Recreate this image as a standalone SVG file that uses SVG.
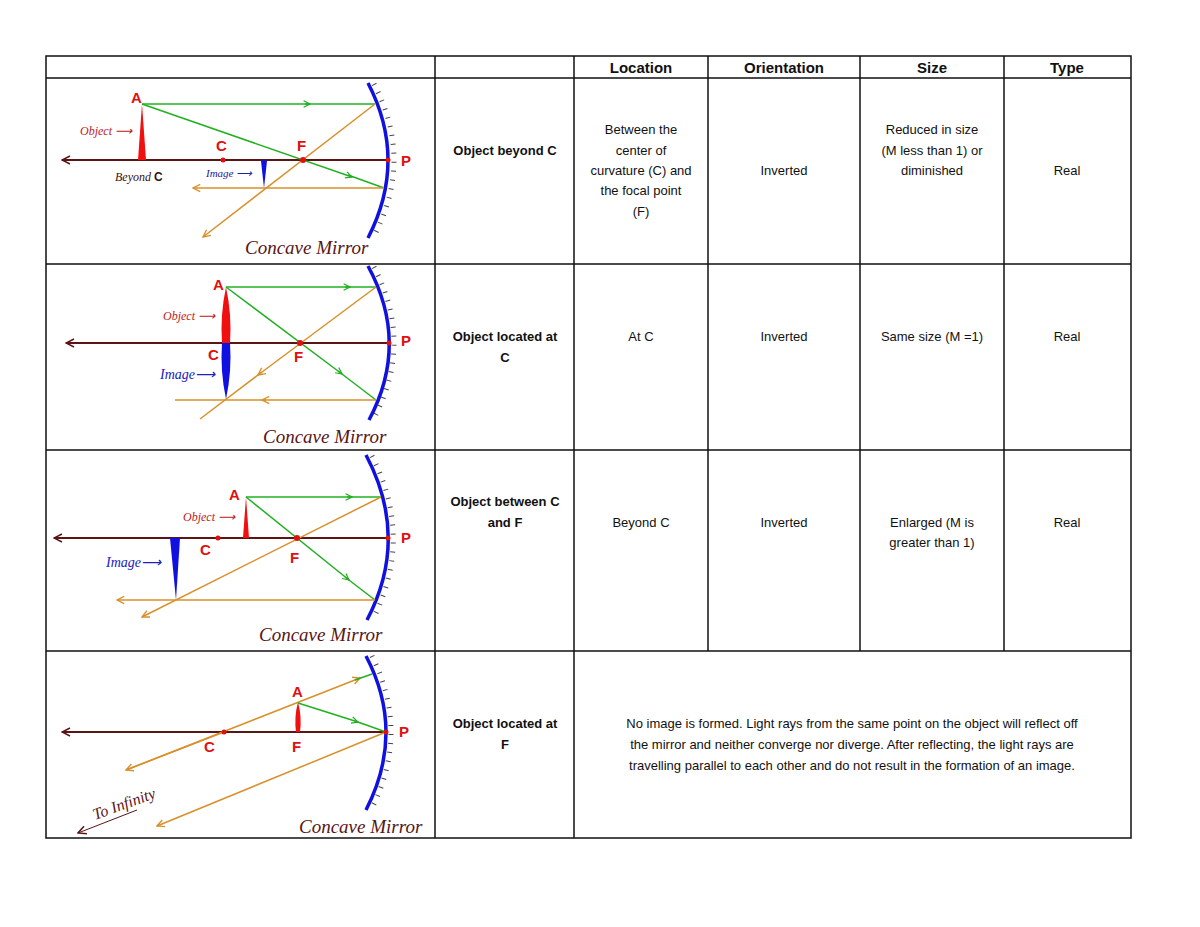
<svg xmlns="http://www.w3.org/2000/svg" width="1200" height="927" viewBox="0 0 1200 927">
<defs>
<style>
.t{font-family:"Liberation Sans",Arial,sans-serif;font-size:13px;fill:#111;text-anchor:middle}
.b{font-weight:bold}
.h{font-family:"Liberation Sans",Arial,sans-serif;font-size:15px;font-weight:bold;fill:#111;text-anchor:middle}
.g{fill:none;stroke:#22b022;stroke-width:1.5}
.o{fill:none;stroke:#d8902a;stroke-width:1.5}
.ax{fill:none;stroke:#5a1515;stroke-width:2}
.mir{fill:none;stroke:#1010e0;stroke-width:3.5}
.tk{fill:none;stroke:#444;stroke-width:5;stroke-dasharray:1 8}
.lbl{font-family:"Liberation Sans",Arial,sans-serif;font-weight:bold;font-size:15px;fill:#e01010}
.it{font-family:"Liberation Serif",serif;font-style:italic;font-size:12px}
.cm{font-family:"Liberation Serif",serif;font-style:italic;font-size:19px;fill:#5a1515}
.grid{fill:none;stroke:#111;stroke-width:1.5}
</style>
<marker id="ag" viewBox="0 0 10 10" refX="9" refY="5" markerWidth="8" markerHeight="8" orient="auto" markerUnits="userSpaceOnUse"><path d="M1 1L9 5L1 9" fill="none" stroke="#22b022" stroke-width="1.5"/></marker>
<marker id="ao" viewBox="0 0 10 10" refX="9" refY="5" markerWidth="9" markerHeight="9" orient="auto" markerUnits="userSpaceOnUse"><path d="M1 1L9 5L1 9" fill="none" stroke="#d8902a" stroke-width="1.5"/></marker>
<marker id="ab" viewBox="0 0 10 10" refX="9" refY="5" markerWidth="10" markerHeight="10" orient="auto" markerUnits="userSpaceOnUse"><path d="M1 1L9 5L1 9" fill="none" stroke="#5a1515" stroke-width="1.5"/></marker>
</defs>

<g id="table">
<rect class="grid" x="46" y="56" width="1085" height="782"/>
<path class="grid" d="M46 78H1131M46 264H1131M46 450H1131M46 651H1131M435 56V838M574 56V838M708 56V651M860 56V651M1004 56V651"/>
<text class="h" x="641" y="73">Location</text>
<text class="h" x="784" y="73">Orientation</text>
<text class="h" x="932" y="73">Size</text>
<text class="h" x="1067" y="73">Type</text>
</g>

<g id="row1-text">
<text class="t b" x="505" y="155">Object  beyond C</text>
<text class="t" x="641" y="134">Between the</text>
<text class="t" x="641" y="155">center  of</text>
<text class="t" x="641" y="175">curvature (C) and</text>
<text class="t" x="641" y="195">the focal point</text>
<text class="t" x="641" y="216">(F)</text>
<text class="t" x="784" y="175">Inverted</text>
<text class="t" x="932" y="134">Reduced  in size</text>
<text class="t" x="932" y="155">(M less than 1) or</text>
<text class="t" x="932" y="175">diminished</text>
<text class="t" x="1067" y="175">Real</text>
</g>
<g id="row2-text">
<text class="t b" x="505" y="341">Object  located at</text>
<text class="t b" x="505" y="362">C</text>
<text class="t" x="641" y="341">At C</text>
<text class="t" x="784" y="341">Inverted</text>
<text class="t" x="932" y="341">Same  size (M =1)</text>
<text class="t" x="1067" y="341">Real</text>
</g>
<g id="row3-text">
<text class="t b" x="505" y="506">Object between C</text>
<text class="t b" x="505" y="527">and F</text>
<text class="t" x="641" y="527">Beyond  C</text>
<text class="t" x="784" y="527">Inverted</text>
<text class="t" x="932" y="527">Enlarged (M is</text>
<text class="t" x="932" y="547">greater than  1)</text>
<text class="t" x="1067" y="527">Real</text>
</g>
<g id="row4-text">
<text class="t b" x="505" y="728">Object located at</text>
<text class="t b" x="505" y="749">F</text>
<text class="t" x="852" y="728">No image is formed.  Light rays from the same point on the object will reflect off</text>
<text class="t" x="852" y="749">the mirror and neither converge nor diverge. After  reflecting, the light rays are</text>
<text class="t" x="852" y="770">travelling parallel to each other  and do not result in the formation of an image.</text>
</g>

<g id="diagram1">
<path class="ax" d="M388 160H62" marker-end="url(#ab)"/>
<path class="tk" d="M374 84Q414 160 374 236"/>
<path class="mir" d="M368 83Q408 160 368 238"/>
<path d="M142 104L146 160H138Z" fill="#f01010"/>
<path d="M264 160L267 161L264 188L261 161Z" fill="#1010e0"/>
<path class="g" d="M142 104L310 104" marker-end="url(#ag)"/><path class="g" d="M305 104H375"/>
<path class="g" d="M142 104L352 177" marker-end="url(#ag)"/><path class="g" d="M348 175L384 188"/>
<path class="o" d="M375 104L203 237" marker-end="url(#ao)"/>
<path class="o" d="M384 188H193" marker-end="url(#ao)"/>
<circle cx="223" cy="160" r="2.5" fill="#e01010"/><circle cx="303" cy="160" r="3" fill="#e01010"/><circle cx="388" cy="160" r="2.5" fill="#e01010"/>
<text class="lbl" x="131" y="103">A</text><text class="lbl" x="216" y="151">C</text><text class="lbl" x="297" y="151">F</text><text class="lbl" x="401" y="166">P</text>
<text class="it" x="80" y="135" fill="#c02020">Object ⟶</text>
<text class="it" x="115" y="181" fill="#3a1010">Beyond <tspan font-family="Liberation Sans" font-style="normal" font-weight="bold" font-size="12">C</tspan></text>
<text class="it" x="206" y="177" fill="#2020a0" style="font-size:11px">Image ⟶</text>
<text class="cm" x="245" y="254">Concave Mirror</text>
</g>

<g id="diagram2">
<path class="ax" d="M389 343H66" marker-end="url(#ab)"/>
<path class="tk" d="M374 267Q414 343 374 418"/>
<path class="mir" d="M368 266Q410 343 369 420"/>
<path d="M226 287Q232 315 230 343H222Q220 315 226 287Z" fill="#f01010"/>
<path d="M226 399Q232 371 230 343H222Q220 371 226 399Z" fill="#1010e0"/>
<path class="g" d="M226 287L350 287" marker-end="url(#ag)"/><path class="g" d="M345 287H376"/>
<path class="g" d="M226 287L342 374" marker-end="url(#ag)"/><path class="g" d="M338 371L376 400"/>
<path class="o" d="M376 287L258 375" marker-end="url(#ao)"/><path class="o" d="M262 372L200 419"/>
<path class="o" d="M376 400L262 400" marker-end="url(#ao)"/><path class="o" d="M266 400H175"/>
<circle cx="300" cy="343" r="3" fill="#e01010"/><circle cx="389" cy="343" r="2.5" fill="#e01010"/>
<text class="lbl" x="213" y="290">A</text><text class="lbl" x="208" y="360">C</text><text class="lbl" x="294" y="362">F</text><text class="lbl" x="401" y="346">P</text>
<text class="it" x="163" y="320" fill="#c02020">Object ⟶</text>
<text class="it" x="160" y="379" fill="#2020c0" style="font-size:14px">Image⟶</text>
<text class="cm" x="263" y="443">Concave Mirror</text>
</g>

<g id="diagram3">
<path class="ax" d="M388 538H54" marker-end="url(#ab)"/>
<path class="tk" d="M372 456Q414 538 373 619"/>
<path class="mir" d="M366 455Q410 538 367 620"/>
<path d="M246 497L249 538H243Z" fill="#f01010"/>
<path d="M170 538H180L176 600Z" fill="#1010e0"/>
<path class="g" d="M246 497L352 497" marker-end="url(#ag)"/><path class="g" d="M347 497H381"/>
<path class="g" d="M246 497L349 580" marker-end="url(#ag)"/><path class="g" d="M345 577L375 600"/>
<path class="o" d="M381 497L142 617" marker-end="url(#ao)"/>
<path class="o" d="M375 600H117" marker-end="url(#ao)"/>
<circle cx="218" cy="538" r="2.5" fill="#e01010"/><circle cx="297" cy="538" r="3" fill="#e01010"/><circle cx="388" cy="538" r="2.5" fill="#e01010"/>
<text class="lbl" x="229" y="500">A</text><text class="lbl" x="200" y="555">C</text><text class="lbl" x="290" y="563">F</text><text class="lbl" x="401" y="543">P</text>
<text class="it" x="183" y="521" fill="#c02020">Object ⟶</text>
<text class="it" x="106" y="567" fill="#2020c0" style="font-size:14px">Image⟶</text>
<text class="cm" x="259" y="641">Concave Mirror</text>
</g>

<g id="diagram4">
<path class="ax" d="M386 732H62" marker-end="url(#ab)"/>
<path class="tk" d="M372 656Q410 732 372 808"/>
<path class="mir" d="M366 656Q406 732 366 810"/>
<path d="M298 702Q302 717 300 732H296Q294 717 298 702Z" fill="#f01010"/>
<path class="o" d="M126 770L360 678" marker-end="url(#ao)" stroke-width="2"/>
<path class="o" d="M224 732L126 770" marker-end="url(#ao)" stroke-width="2"/>
<path class="o" d="M386 732L157 826" marker-end="url(#ao)" stroke-width="2"/>
<path class="g" d="M355 680L372 674" stroke-width="2"/>
<path class="g" d="M298 703L358 722" marker-end="url(#ag)" stroke-width="2"/><path class="g" d="M355 721L386 732" stroke-width="2"/>
<circle cx="224" cy="732" r="2.5" fill="#e01010"/><circle cx="386" cy="732" r="2.5" fill="#e01010"/>
<text class="lbl" x="292" y="697">A</text><text class="lbl" x="204" y="752">C</text><text class="lbl" x="292" y="752">F</text><text class="lbl" x="399" y="737">P</text>
<text class="it" x="95" y="820" fill="#5a1515" style="font-size:16px" transform="rotate(-20 95 820)">To  Infinity</text>
<path d="M137 810L78 833" fill="none" stroke="#5a1515" stroke-width="1" marker-end="url(#ab)"/>
<text class="cm" x="299" y="833">Concave Mirror</text>
</g>
</svg>
